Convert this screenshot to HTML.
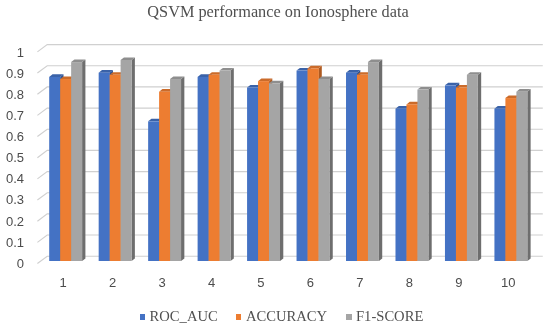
<!DOCTYPE html>
<html><head><meta charset="utf-8"><title>QSVM performance on Ionosphere data</title>
<style>
html,body{margin:0;padding:0;background:#fff}
#c{position:relative;width:550px;height:329px;overflow:hidden;background:#fff;font-family:"Liberation Sans",sans-serif;color:#4c4c4c}
.title{position:absolute;left:3px;width:550px;top:1.5px;text-align:center;font-family:"Liberation Serif",serif;font-size:16.3px;line-height:20px;color:#505050;white-space:nowrap}
.yl{position:absolute;left:0;width:24.1px;text-align:right;font-size:13px;line-height:16px}
.xl{position:absolute;top:274.6px;width:40px;text-align:center;font-size:13px;line-height:16px}
.lg{position:absolute;top:308.3px;font-family:"Liberation Serif",serif;font-size:14.6px;line-height:16px;color:#505050;white-space:nowrap}
.sw{position:absolute;top:314px;width:5.8px;height:5.6px}
</style></head><body>
<div id="c">
<div class="title">QSVM performance on Ionosphere data</div>
<svg width="550" height="329" viewBox="0 0 550 329" style="position:absolute;left:0;top:0">
<path d="M37.40 263.50L47.20 256.20H542.8" fill="none" stroke="#D0D0D0" stroke-width="1.15"/>
<path d="M37.40 242.34L47.20 235.04H542.8" fill="none" stroke="#D0D0D0" stroke-width="1.15"/>
<path d="M37.40 221.18L47.20 213.88H542.8" fill="none" stroke="#D0D0D0" stroke-width="1.15"/>
<path d="M37.40 200.02L47.20 192.72H542.8" fill="none" stroke="#D0D0D0" stroke-width="1.15"/>
<path d="M37.40 178.86L47.20 171.56H542.8" fill="none" stroke="#D0D0D0" stroke-width="1.15"/>
<path d="M37.40 157.70L47.20 150.40H542.8" fill="none" stroke="#D0D0D0" stroke-width="1.15"/>
<path d="M37.40 136.54L47.20 129.24H542.8" fill="none" stroke="#D0D0D0" stroke-width="1.15"/>
<path d="M37.40 115.38L47.20 108.08H542.8" fill="none" stroke="#D0D0D0" stroke-width="1.15"/>
<path d="M37.40 94.22L47.20 86.92H542.8" fill="none" stroke="#D0D0D0" stroke-width="1.15"/>
<path d="M37.40 73.06L47.20 65.76H542.8" fill="none" stroke="#D0D0D0" stroke-width="1.15"/>
<path d="M37.40 51.90L47.20 44.60H542.8" fill="none" stroke="#D0D0D0" stroke-width="1.15"/>
<path d="M60.17 261.00l3.3 -2.6V74.31l-3.3 2.6z" fill="#2F528F"/>
<path d="M49.20 76.91l3.3 -2.6h10.97l-3.3 2.6z" fill="#3A62A8"/>
<rect x="49.20" y="76.91" width="11.27" height="184.09" fill="#4472C4"/>
<path d="M71.14 261.00l3.3 -2.6V76.42l-3.3 2.6z" fill="#AE5A21"/>
<path d="M60.17 79.02l3.3 -2.6h10.97l-3.3 2.6z" fill="#CB6B2A"/>
<rect x="60.17" y="79.02" width="11.27" height="181.98" fill="#ED7D31"/>
<path d="M82.11 261.00l3.3 -2.6V59.50l-3.3 2.6z" fill="#6E6E6E"/>
<path d="M71.14 62.10l3.3 -2.6h10.97l-3.3 2.6z" fill="#8E8E8E"/>
<rect x="71.14" y="62.10" width="10.97" height="198.90" fill="#A5A5A5"/>
<path d="M109.64 261.00l3.3 -2.6V70.08l-3.3 2.6z" fill="#2F528F"/>
<path d="M98.67 72.68l3.3 -2.6h10.97l-3.3 2.6z" fill="#3A62A8"/>
<rect x="98.67" y="72.68" width="11.27" height="188.32" fill="#4472C4"/>
<path d="M120.61 261.00l3.3 -2.6V72.19l-3.3 2.6z" fill="#AE5A21"/>
<path d="M109.64 74.79l3.3 -2.6h10.97l-3.3 2.6z" fill="#CB6B2A"/>
<rect x="109.64" y="74.79" width="11.27" height="186.21" fill="#ED7D31"/>
<path d="M131.58 261.00l3.3 -2.6V57.38l-3.3 2.6z" fill="#6E6E6E"/>
<path d="M120.61 59.98l3.3 -2.6h10.97l-3.3 2.6z" fill="#8E8E8E"/>
<rect x="120.61" y="59.98" width="10.97" height="201.02" fill="#A5A5A5"/>
<path d="M159.11 261.00l3.3 -2.6V118.74l-3.3 2.6z" fill="#2F528F"/>
<path d="M148.14 121.34l3.3 -2.6h10.97l-3.3 2.6z" fill="#3A62A8"/>
<rect x="148.14" y="121.34" width="11.27" height="139.66" fill="#4472C4"/>
<path d="M170.08 261.00l3.3 -2.6V89.12l-3.3 2.6z" fill="#AE5A21"/>
<path d="M159.11 91.72l3.3 -2.6h10.97l-3.3 2.6z" fill="#CB6B2A"/>
<rect x="159.11" y="91.72" width="11.27" height="169.28" fill="#ED7D31"/>
<path d="M181.05 261.00l3.3 -2.6V76.42l-3.3 2.6z" fill="#6E6E6E"/>
<path d="M170.08 79.02l3.3 -2.6h10.97l-3.3 2.6z" fill="#8E8E8E"/>
<rect x="170.08" y="79.02" width="10.97" height="181.98" fill="#A5A5A5"/>
<path d="M208.58 261.00l3.3 -2.6V74.31l-3.3 2.6z" fill="#2F528F"/>
<path d="M197.61 76.91l3.3 -2.6h10.97l-3.3 2.6z" fill="#3A62A8"/>
<rect x="197.61" y="76.91" width="11.27" height="184.09" fill="#4472C4"/>
<path d="M219.55 261.00l3.3 -2.6V72.19l-3.3 2.6z" fill="#AE5A21"/>
<path d="M208.58 74.79l3.3 -2.6h10.97l-3.3 2.6z" fill="#CB6B2A"/>
<rect x="208.58" y="74.79" width="11.27" height="186.21" fill="#ED7D31"/>
<path d="M230.52 261.00l3.3 -2.6V67.96l-3.3 2.6z" fill="#6E6E6E"/>
<path d="M219.55 70.56l3.3 -2.6h10.97l-3.3 2.6z" fill="#8E8E8E"/>
<rect x="219.55" y="70.56" width="10.97" height="190.44" fill="#A5A5A5"/>
<path d="M258.05 261.00l3.3 -2.6V84.89l-3.3 2.6z" fill="#2F528F"/>
<path d="M247.08 87.49l3.3 -2.6h10.97l-3.3 2.6z" fill="#3A62A8"/>
<rect x="247.08" y="87.49" width="11.27" height="173.51" fill="#4472C4"/>
<path d="M269.02 261.00l3.3 -2.6V78.54l-3.3 2.6z" fill="#AE5A21"/>
<path d="M258.05 81.14l3.3 -2.6h10.97l-3.3 2.6z" fill="#CB6B2A"/>
<rect x="258.05" y="81.14" width="11.27" height="179.86" fill="#ED7D31"/>
<path d="M279.99 261.00l3.3 -2.6V80.66l-3.3 2.6z" fill="#6E6E6E"/>
<path d="M269.02 83.26l3.3 -2.6h10.97l-3.3 2.6z" fill="#8E8E8E"/>
<rect x="269.02" y="83.26" width="10.97" height="177.74" fill="#A5A5A5"/>
<path d="M307.52 261.00l3.3 -2.6V67.96l-3.3 2.6z" fill="#2F528F"/>
<path d="M296.55 70.56l3.3 -2.6h10.97l-3.3 2.6z" fill="#3A62A8"/>
<rect x="296.55" y="70.56" width="11.27" height="190.44" fill="#4472C4"/>
<path d="M318.49 261.00l3.3 -2.6V65.84l-3.3 2.6z" fill="#AE5A21"/>
<path d="M307.52 68.44l3.3 -2.6h10.97l-3.3 2.6z" fill="#CB6B2A"/>
<rect x="307.52" y="68.44" width="11.27" height="192.56" fill="#ED7D31"/>
<path d="M329.46 261.00l3.3 -2.6V76.42l-3.3 2.6z" fill="#6E6E6E"/>
<path d="M318.49 79.02l3.3 -2.6h10.97l-3.3 2.6z" fill="#8E8E8E"/>
<rect x="318.49" y="79.02" width="10.97" height="181.98" fill="#A5A5A5"/>
<path d="M356.99 261.00l3.3 -2.6V70.08l-3.3 2.6z" fill="#2F528F"/>
<path d="M346.02 72.68l3.3 -2.6h10.97l-3.3 2.6z" fill="#3A62A8"/>
<rect x="346.02" y="72.68" width="11.27" height="188.32" fill="#4472C4"/>
<path d="M367.96 261.00l3.3 -2.6V72.19l-3.3 2.6z" fill="#AE5A21"/>
<path d="M356.99 74.79l3.3 -2.6h10.97l-3.3 2.6z" fill="#CB6B2A"/>
<rect x="356.99" y="74.79" width="11.27" height="186.21" fill="#ED7D31"/>
<path d="M378.93 261.00l3.3 -2.6V59.50l-3.3 2.6z" fill="#6E6E6E"/>
<path d="M367.96 62.10l3.3 -2.6h10.97l-3.3 2.6z" fill="#8E8E8E"/>
<rect x="367.96" y="62.10" width="10.97" height="198.90" fill="#A5A5A5"/>
<path d="M406.46 261.00l3.3 -2.6V106.05l-3.3 2.6z" fill="#2F528F"/>
<path d="M395.49 108.65l3.3 -2.6h10.97l-3.3 2.6z" fill="#3A62A8"/>
<rect x="395.49" y="108.65" width="11.27" height="152.35" fill="#4472C4"/>
<path d="M417.43 261.00l3.3 -2.6V101.82l-3.3 2.6z" fill="#AE5A21"/>
<path d="M406.46 104.42l3.3 -2.6h10.97l-3.3 2.6z" fill="#CB6B2A"/>
<rect x="406.46" y="104.42" width="11.27" height="156.58" fill="#ED7D31"/>
<path d="M428.40 261.00l3.3 -2.6V87.00l-3.3 2.6z" fill="#6E6E6E"/>
<path d="M417.43 89.60l3.3 -2.6h10.97l-3.3 2.6z" fill="#8E8E8E"/>
<rect x="417.43" y="89.60" width="10.97" height="171.40" fill="#A5A5A5"/>
<path d="M455.93 261.00l3.3 -2.6V82.77l-3.3 2.6z" fill="#2F528F"/>
<path d="M444.96 85.37l3.3 -2.6h10.97l-3.3 2.6z" fill="#3A62A8"/>
<rect x="444.96" y="85.37" width="11.27" height="175.63" fill="#4472C4"/>
<path d="M466.90 261.00l3.3 -2.6V84.89l-3.3 2.6z" fill="#AE5A21"/>
<path d="M455.93 87.49l3.3 -2.6h10.97l-3.3 2.6z" fill="#CB6B2A"/>
<rect x="455.93" y="87.49" width="11.27" height="173.51" fill="#ED7D31"/>
<path d="M477.87 261.00l3.3 -2.6V72.19l-3.3 2.6z" fill="#6E6E6E"/>
<path d="M466.90 74.79l3.3 -2.6h10.97l-3.3 2.6z" fill="#8E8E8E"/>
<rect x="466.90" y="74.79" width="10.97" height="186.21" fill="#A5A5A5"/>
<path d="M505.40 261.00l3.3 -2.6V106.05l-3.3 2.6z" fill="#2F528F"/>
<path d="M494.43 108.65l3.3 -2.6h10.97l-3.3 2.6z" fill="#3A62A8"/>
<rect x="494.43" y="108.65" width="11.27" height="152.35" fill="#4472C4"/>
<path d="M516.37 261.00l3.3 -2.6V95.47l-3.3 2.6z" fill="#AE5A21"/>
<path d="M505.40 98.07l3.3 -2.6h10.97l-3.3 2.6z" fill="#CB6B2A"/>
<rect x="505.40" y="98.07" width="11.27" height="162.93" fill="#ED7D31"/>
<path d="M527.34 261.00l3.3 -2.6V89.12l-3.3 2.6z" fill="#6E6E6E"/>
<path d="M516.37 91.72l3.3 -2.6h10.97l-3.3 2.6z" fill="#8E8E8E"/>
<rect x="516.37" y="91.72" width="10.97" height="169.28" fill="#A5A5A5"/>
</svg>
<div class="yl" style="top:255.60px">0</div><div class="yl" style="top:234.55px">0.1</div><div class="yl" style="top:213.50px">0.2</div><div class="yl" style="top:192.45px">0.3</div><div class="yl" style="top:171.40px">0.4</div><div class="yl" style="top:150.35px">0.5</div><div class="yl" style="top:129.30px">0.6</div><div class="yl" style="top:108.25px">0.7</div><div class="yl" style="top:87.20px">0.8</div><div class="yl" style="top:66.15px">0.9</div><div class="yl" style="top:45.10px">1</div><div class="xl" style="left:43.1px">1</div><div class="xl" style="left:92.5px">2</div><div class="xl" style="left:142.0px">3</div><div class="xl" style="left:191.5px">4</div><div class="xl" style="left:240.9px">5</div><div class="xl" style="left:290.4px">6</div><div class="xl" style="left:339.9px">7</div><div class="xl" style="left:389.3px">8</div><div class="xl" style="left:438.8px">9</div><div class="xl" style="left:488.3px">10</div>
<div class="sw" style="left:139.6px;background:#4472C4"></div><div class="lg" style="left:149.6px">ROC_AUC</div>
<div class="sw" style="left:235.5px;background:#ED7D31"></div><div class="lg" style="left:246px">ACCURACY</div>
<div class="sw" style="left:346.3px;background:#A5A5A5"></div><div class="lg" style="left:356px">F1-SCORE</div>
</div>
</body></html>
